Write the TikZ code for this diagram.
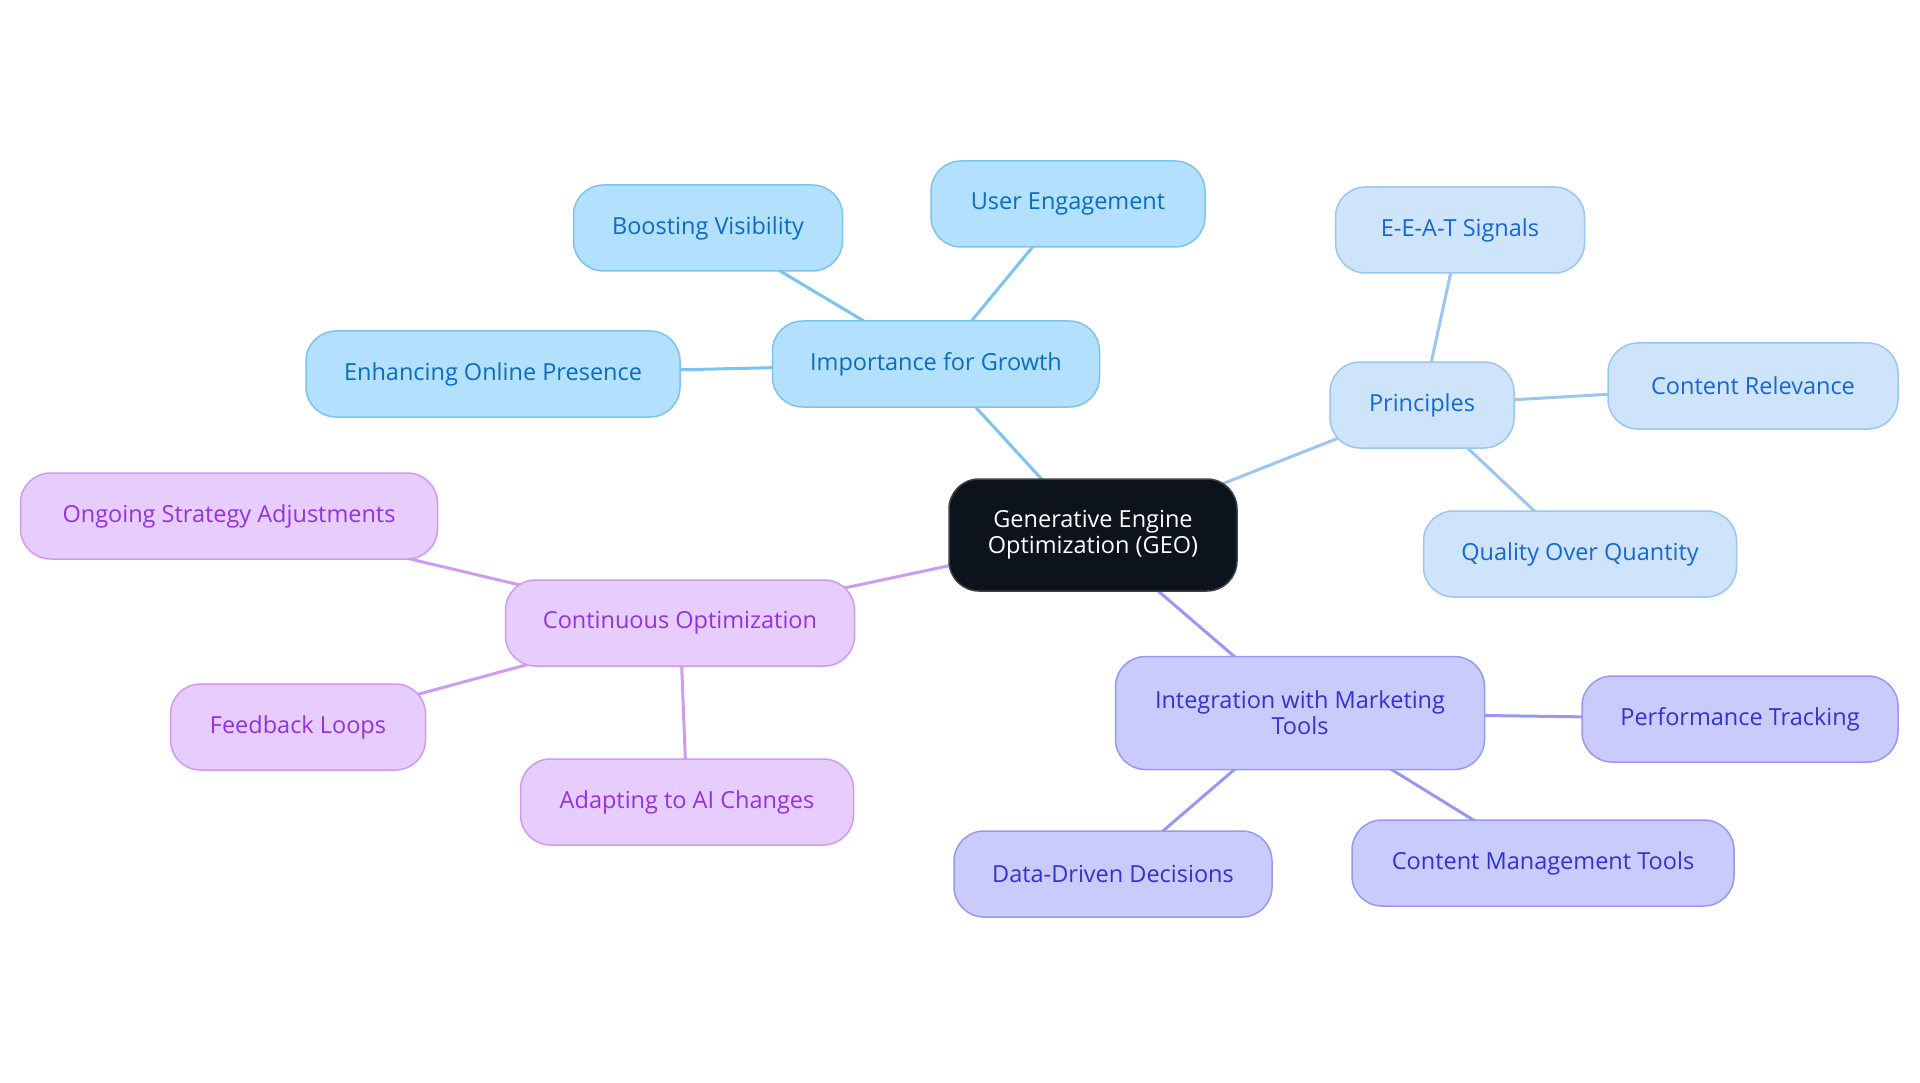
\documentclass[tikz,border=0pt]{standalone}
\usepackage{fontspec}
\setmainfont{Open Sans}
\usetikzlibrary{backgrounds}

\definecolor{rootfill}{HTML}{0D131C}
\definecolor{growthfill}{HTML}{B3E0FD}
\definecolor{growthline}{HTML}{7CC3F0}
\definecolor{growthtext}{HTML}{0B6CC2}
\definecolor{princfill}{HTML}{CDE4FA}
\definecolor{princline}{HTML}{9CC5EF}
\definecolor{princtext}{HTML}{1766D6}
\definecolor{optimfill}{HTML}{E7CCFE}
\definecolor{optimline}{HTML}{CE9BF0}
\definecolor{optimtext}{HTML}{9332E0}
\definecolor{integfill}{HTML}{C9CBFD}
\definecolor{integline}{HTML}{9898F0}
\definecolor{integtext}{HTML}{3232D0}

\begin{document}
\begin{tikzpicture}[x=1pt, y=-1pt, align=center, font=\fontsize{23.5}{26}\selectfont]
	\tikzstyle{topic}=[rounded corners=30pt, line width=1.5pt, minimum height=86pt, inner sep=0pt]
	\tikzstyle{growth}=[topic, fill=growthfill, draw=growthline, text=growthtext]
	\tikzstyle{princ}=[topic, fill=princfill, draw=princline, text=princtext]
	\tikzstyle{optim}=[topic, fill=optimfill, draw=optimline, text=optimtext]
	\tikzstyle{integ}=[topic, fill=integfill, draw=integline, text=integtext]
	\tikzstyle{link}=[line width=3pt]

	\useasboundingbox (0,0) rectangle (1920,1083);

	\node[topic, fill=rootfill, draw=rootfill!80!white, text=white, minimum width=288pt, minimum height=112pt] (root) at (1093,535) {Generative Engine\\Optimization (GEO)};

	\node[growth, minimum width=327pt] (growth) at (936,364) {Importance for Growth};
	\node[growth, minimum width=269pt] (visibility) at (708,228) {Boosting Visibility};
	\node[growth, minimum width=274pt] (engagement) at (1068,204) {User Engagement};
	\node[growth, minimum width=374pt] (presence) at (493,374) {Enhancing Online Presence};

	\node[princ, minimum width=184pt] (principles) at (1422,405) {Principles};
	\node[princ, minimum width=249pt] (eeat) at (1460,230) {E-E-A-T Signals};
	\node[princ, minimum width=290pt] (relevance) at (1753,386) {Content Relevance};
	\node[princ, minimum width=313pt] (quality) at (1580,554) {Quality Over Quantity};

	\node[optim, minimum width=349pt] (optimization) at (680,623) {Continuous Optimization};
	\node[optim, minimum width=417pt] (adjustments) at (229,516) {Ongoing Strategy Adjustments};
	\node[optim, minimum width=255pt] (feedback) at (298,727) {Feedback Loops};
	\node[optim, minimum width=333pt] (adapting) at (687,802) {Adapting to AI Changes};

	\node[integ, minimum width=369pt, minimum height=113pt] (integration) at (1300,713) {Integration with Marketing\\Tools};
	\node[integ, minimum width=316pt] (tracking) at (1740,719) {Performance Tracking};
	\node[integ, minimum width=382pt] (cms) at (1543,863) {Content Management Tools};
	\node[integ, minimum width=318pt] (decisions) at (1113,874) {Data-Driven Decisions};

	\begin{scope}[on background layer]
		\draw[link, growthline] (root.center) -- (growth.center);
		\foreach \leaf in {visibility, engagement, presence}
			\draw[link, growthline] (growth.center) -- (\leaf.center);
		\draw[link, princline] (root.center) -- (principles.center);
		\foreach \leaf in {eeat, relevance, quality}
			\draw[link, princline] (principles.center) -- (\leaf.center);
		\draw[link, optimline] (root.center) -- (optimization.center);
		\foreach \leaf in {adjustments, feedback, adapting}
			\draw[link, optimline] (optimization.center) -- (\leaf.center);
		\draw[link, integline] (root.center) -- (integration.center);
		\foreach \leaf in {tracking, cms, decisions}
			\draw[link, integline] (integration.center) -- (\leaf.center);
	\end{scope}
\end{tikzpicture}
\end{document}
